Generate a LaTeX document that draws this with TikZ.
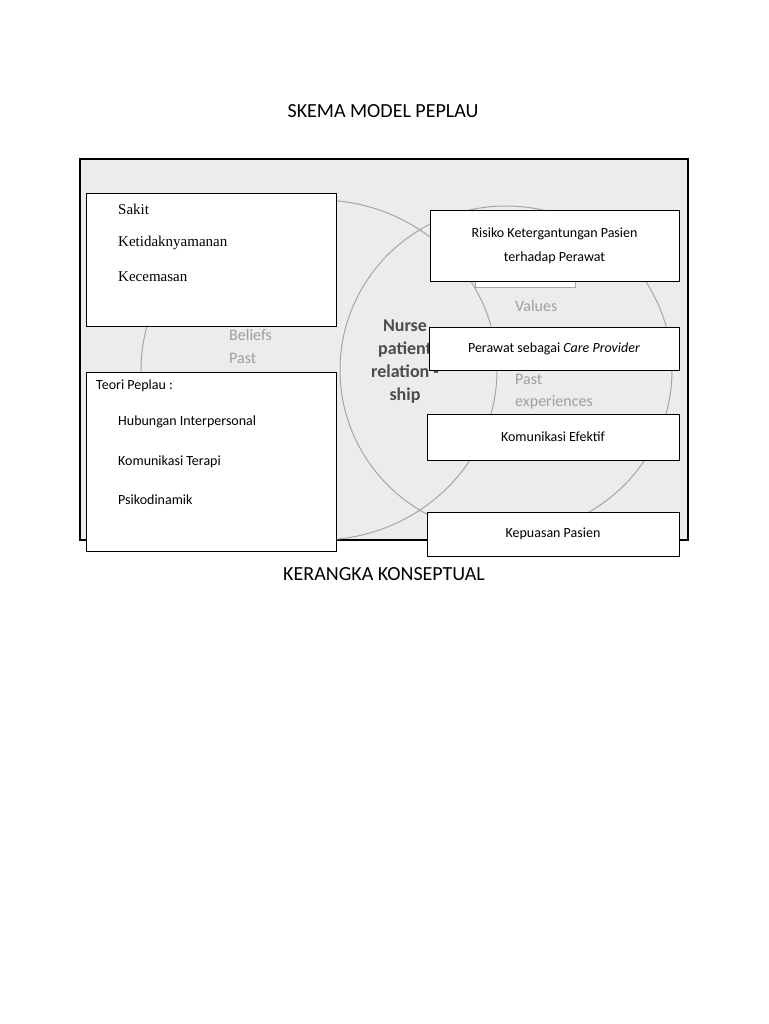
\documentclass[tikz,border=0pt]{standalone}
\usepackage{fontspec}
\setmainfont{Carlito}
\newfontfamily\serifx{Liberation Serif}
\begin{document}
\begin{tikzpicture}[x=1pt,y=-1pt,
  box/.style={draw=black,fill=white,line width=0.8pt},
  gtxt/.style={text=gray!75,font=\fontsize{16}{18}\selectfont,anchor=west,inner sep=0},
  btxt/.style={font=\fontsize{14}{16}\selectfont,anchor=west,inner sep=0},
  ctxt/.style={font=\fontsize{14}{16}\selectfont,align=center,inner sep=0}]
\useasboundingbox (0,0) rectangle (768,1024);
\node[font=\fontsize{20}{24}\selectfont] (t1) at (383,111) {SKEMA MODEL PEPLAU};
\draw[fill=gray!15,draw=black,line width=1.5pt] (80,159) rectangle (688,540);
\draw[gray!70,line width=1pt] (319,370) ellipse (178 and 170);
\draw[gray!70,line width=1pt] (506,370) ellipse (166 and 164);
\draw[gray!70,fill=white] (475,278) rectangle (575,287);
\node[gtxt] (b1) at (229,335) {Beliefs};
\node[gtxt] (b2) at (229,358) {Past};
\node[gtxt] (v1) at (515,306) {Values};
\node[gtxt] (v2) at (515,379) {Past};
\node[gtxt] (v3) at (515,402) {experiences};
\node[text=gray!60!black,font=\bfseries\fontsize{18}{23}\selectfont,align=center] (nr) at (405,362) {Nurse\\patient\\relation -\\ship};
\node[box,minimum width=250pt,minimum height=133pt] (bx1) at (211,259.5) {};
\node[btxt,font=\serifx\fontsize{15}{17}\selectfont] at (118,209) {Sakit};
\node[btxt,font=\serifx\fontsize{15}{17}\selectfont] at (118,243) {Ketidaknyamanan};
\node[btxt,font=\serifx\fontsize{15}{17}\selectfont] at (118,277) {Kecemasan};
\node[box,minimum width=250pt,minimum height=179pt] (bx2) at (211,461.5) {};
\node[btxt] at (96,386) {Teori Peplau :};
\node[btxt] at (118,422) {Hubungan Interpersonal};
\node[btxt] at (118,462) {Komunikasi Terapi};
\node[btxt] at (118,500) {Psikodinamik};
\node[box,minimum width=249pt,minimum height=71pt] (bx3) at (554.5,245.5) {};
\node[ctxt] at (bx3) {Risiko Ketergantungan Pasien\\[8pt]terhadap Perawat};
\node[box,minimum width=250pt,minimum height=43pt] (bx4) at (554,348.5) {};
\node[ctxt] at (bx4) {Perawat sebagai \textit{Care Provider}};
\node[box,minimum width=252pt,minimum height=46pt] (bx5) at (553,437) {};
\node[ctxt] at (bx5) {Komunikasi Efektif};
\node[box,minimum width=252pt,minimum height=44pt] (bx6) at (553,534) {};
\node[ctxt] at (bx6) {Kepuasan Pasien};
\node[font=\fontsize{20}{24}\selectfont] (t2) at (384,574) {KERANGKA KONSEPTUAL};
\end{tikzpicture}
\end{document}
